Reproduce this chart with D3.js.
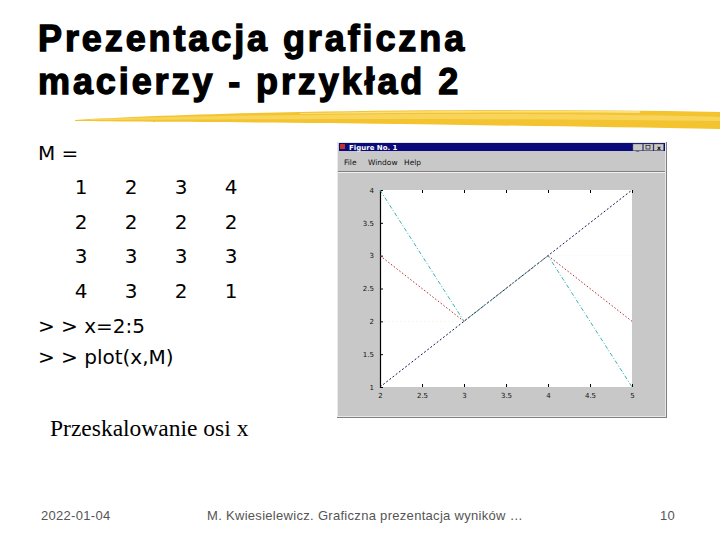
<!DOCTYPE html>
<html>
<head>
<meta charset="utf-8">
<script src="https://cdn.jsdelivr.net/npm/d3@7"></script>
<style>
  body { margin: 0; background: #fff; }
  svg { display: block; }
</style>
</head>
<body>
<div id="slide"></div>
<script>
// matrix M (rows), x = 2:5, plot(x, M) draws the columns
const xValues = [2, 3, 4, 5];
const matrixRows = [
  [1, 2, 3, 4],
  [2, 2, 2, 2],
  [3, 3, 3, 3],
  [4, 3, 2, 1]
];
const seriesColors = ["#141450", "#2e8b2e", "#b52a2a", "#3ab4b4"];
const xTicks = [2, 2.5, 3, 3.5, 4, 4.5, 5];
const yTicks = [1, 1.5, 2, 2.5, 3, 3.5, 4];
const titleLines = ["Prezentacja graficzna", "macierzy - przykład 2"];
const commandLines = [">> x=2:5", ">> plot(x,M)"];

const W = 720, H = 540;

const svg = d3.select("#slide")
  .append("svg")
  .attr("width", W)
  .attr("height", H);

svg.append("rect").attr("width", W).attr("height", H).attr("fill", "#fff");

// Title
svg.append("g")
  .selectAll("text")
  .data(titleLines)
  .join("text")
  .attr("x", 38)
  .attr("y", (d, i) => 51 + i * 43)
  .attr("font-family", "Liberation Sans, Arial, sans-serif")
  .attr("font-weight", "bold")
  .attr("font-size", 36)
  .attr("letter-spacing", 2.9)
  .attr("fill", "#000")
  .attr("stroke", "#000")
  .attr("stroke-width", 1.3)
  .text(d => d);

// yellow brush stroke under the title
const brush = svg.append("g");
brush.append("path")
  .attr("d", "M75,120 C120,117 200,114 300,112 C420,110 560,109 720,112 L720,129 C600,127 470,125 330,123 C220,122 130,122 75,121 Z")
  .attr("fill", "#f3c430");
brush.append("path")
  .attr("d", "M90,119 C200,116 330,114 460,114 C560,114 650,115 720,117 L720,121 C620,120 500,119 380,119 C260,119 160,120 90,120 Z")
  .attr("fill", "#f9dc6c")
  .attr("opacity", 0.7);
brush.append("path")
  .attr("d", "M300,113 C400,111 520,110 640,111 L640,113 C520,112 400,113 300,114 Z")
  .attr("fill", "#fbe79a")
  .attr("opacity", 0.8);

// Matrix text
const mono = "DejaVu Sans, Verdana, sans-serif";
svg.append("text")
  .attr("x", 38).attr("y", 160)
  .attr("font-family", mono).attr("font-size", 20)
  .text("M =");

const colX = d3.scalePoint().domain(d3.range(4)).range([81, 231]);
const rowY = d3.scalePoint().domain(d3.range(4)).range([194, 298]);

matrixRows.forEach((row, r) => {
  svg.append("g")
    .selectAll("text")
    .data(row)
    .join("text")
    .attr("x", (d, c) => colX(c))
    .attr("y", rowY(r))
    .attr("text-anchor", "middle")
    .attr("font-family", mono).attr("font-size", 20)
    .text(d => d);
});

svg.append("g")
  .selectAll("text")
  .data(commandLines)
  .join("text")
  .attr("x", 38)
  .attr("y", (d, i) => 333 + i * 31)
  .attr("font-family", mono).attr("font-size", 20)
  .text(d => d.replace(">>", "> >"));

svg.append("text")
  .attr("x", 50).attr("y", 436)
  .attr("font-family", "Liberation Serif, Times New Roman, serif")
  .attr("font-size", 23.5)
  .text("Przeskalowanie osi x");

// Figure window
const win = svg.append("g");
win.append("rect").attr("x", 337).attr("y", 142).attr("width", 330).attr("height", 276).attr("fill", "#808080");
win.append("rect").attr("x", 337).attr("y", 142).attr("width", 329).attr("height", 275).attr("fill", "#e8e8e8");
win.append("rect").attr("x", 338).attr("y", 143).attr("width", 327).attr("height", 273).attr("fill", "#c8c8c8");
win.append("rect").attr("x", 339).attr("y", 143).attr("width", 326).attr("height", 8).attr("fill", "#0a0a7a");
win.append("rect").attr("x", 340).attr("y", 144).attr("width", 5).attr("height", 5).attr("fill", "#c03030");
win.append("text").attr("x", 349).attr("y", 150)
  .attr("font-family", "DejaVu Sans, sans-serif").attr("font-size", 7).attr("font-weight", "bold")
  .attr("fill", "#fff").text("Figure No. 1");
[0, 1, 2].forEach(i => {
  const bx = 633 + i * 10.5;
  win.append("rect").attr("x", bx).attr("y", 144).attr("width", 9.5).attr("height", 6.5)
    .attr("fill", "#c8c8c8").attr("stroke", "#707070").attr("stroke-width", 0.5);
});
win.append("text").attr("x", 637.5).attr("y", 150).attr("font-size", 6).attr("text-anchor", "middle")
  .attr("font-family", "DejaVu Sans, sans-serif").text("_");
win.append("rect").attr("x", 646).attr("y", 145.5).attr("width", 4).attr("height", 3.5)
  .attr("fill", "none").attr("stroke", "#000").attr("stroke-width", 0.6);
win.append("text").attr("x", 659).attr("y", 149.6).attr("font-size", 6).attr("text-anchor", "middle")
  .attr("font-family", "DejaVu Sans, sans-serif").attr("font-weight", "bold").text("x");

win.append("g")
  .selectAll("text")
  .data(["File", "Window", "Help"])
  .join("text")
  .attr("x", (d, i) => [344, 368, 404][i])
  .attr("y", 165)
  .attr("font-family", "DejaVu Sans, sans-serif")
  .attr("font-size", 7.5)
  .attr("fill", "#111")
  .text(d => d);
win.append("line").attr("x1", 338).attr("x2", 665).attr("y1", 171.5).attr("y2", 171.5)
  .attr("stroke", "#808080");
win.append("line").attr("x1", 338).attr("x2", 665).attr("y1", 172.5).attr("y2", 172.5)
  .attr("stroke", "#f0f0f0");

// Plot axes
const plot = { left: 380, top: 190, right: 632, bottom: 387 };
const x = d3.scaleLinear().domain([2, 5]).range([plot.left, plot.right]);
const y = d3.scaleLinear().domain([1, 4]).range([plot.bottom, plot.top]);

svg.append("rect")
  .attr("x", plot.left).attr("y", plot.top)
  .attr("width", plot.right - plot.left).attr("height", plot.bottom - plot.top)
  .attr("fill", "#fff");

const fmt = d => String(d);

svg.append("g")
  .attr("transform", `translate(0,${plot.bottom})`)
  .call(d3.axisBottom(x).tickValues(xTicks).tickSize(-3).tickPadding(6).tickFormat(fmt))
  .call(g => g.select(".domain").remove())
  .call(g => g.selectAll("text").attr("font-size", 7).attr("font-family", "DejaVu Sans, sans-serif").attr("fill", "#111"));

svg.append("g")
  .attr("transform", `translate(0,${plot.top})`)
  .call(d3.axisTop(x).tickValues(xTicks).tickSize(-3).tickFormat(""))
  .call(g => g.select(".domain").remove());

svg.append("g")
  .attr("transform", `translate(${plot.left},0)`)
  .call(d3.axisLeft(y).tickValues(yTicks).tickSize(-3).tickPadding(6).tickFormat(fmt))
  .call(g => g.select(".domain").attr("stroke-width", 1.2))
  .call(g => g.selectAll("text").attr("font-size", 7).attr("font-family", "DejaVu Sans, sans-serif").attr("fill", "#111"));

// Series: the columns of M
const series = d3.range(4).map(c => matrixRows.map((row, i) => ({ x: xValues[i], y: row[c] })));
const line = d3.line().x(d => x(d.x)).y(d => y(d.y));

svg.append("g")
  .selectAll("path")
  .data(series)
  .join("path")
  .attr("d", line)
  .attr("fill", "none")
  .attr("stroke", (d, i) => seriesColors[i])
  .attr("stroke-width", 1)
  .attr("stroke-opacity", (d, i) => i === 1 ? 0.06 : 1)
  .attr("stroke-dasharray", (d, i) => ["2,2", "2,2", "1.5,2", "4,2,1,2"][i]);

// Footer
const footer = svg.append("g")
  .attr("font-family", "Liberation Sans, Arial, sans-serif")
  .attr("font-size", 13)
  .attr("letter-spacing", 0.3)
  .attr("fill", "#555");
footer.append("text").attr("x", 41).attr("y", 520).text("2022-01-04");
footer.append("text").attr("x", 365).attr("y", 520).attr("text-anchor", "middle")
  .text("M. Kwiesielewicz. Graficzna prezentacja wyników …");
footer.append("text").attr("x", 675).attr("y", 520).attr("text-anchor", "end").text("10");
</script>
</body>
</html>
